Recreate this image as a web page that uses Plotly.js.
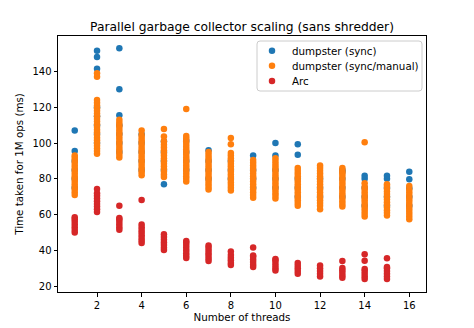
<!DOCTYPE html>
<html>
<head>
<meta charset="utf-8">
<script src="https://cdn.plot.ly/plotly-3.0.1.min.js"></script>
<style>html,body{margin:0;padding:0;background:#fff;}#chart{width:474px;height:328px;}</style>
</head>
<body>
<div id="chart"></div>
<script>
const seriesNames = ['dumpster (sync)', 'dumpster (sync/manual)', 'Arc'];
const seriesColors = ['#1f77b4', '#ff7f0e', '#d62728'];

// dumpster (sync)
const syncThreads = [
  1,1,1,1,1,1,
  2,2,2,2,2,2,2,2,
  3,3,3,3,3,3,3,
  4,4,4,4,4,
  5,5,5,5,5,
  6,6,6,6,
  7,7,7,7,
  8,8,8,
  9,9,9,9,
  10,10,10,10,10,
  11,11,11,11,11,
  12,12,12,
  13,13,13,13,13,
  14,14,14,14,14,
  15,15,15,15,15,
  16,16,16,16,16
];
const syncTimes = [
  75,80,85,90,95.5,107,
  100,105,110,115,120,141.5,148,151.5,
  95,100,105,110,115.5,130,153,
  85,90,95,100.2,104.9,
  77,85,90,95,100.8,
  85,90,95,101.3,
  80,85,90,96,
  80,85,90,
  75,80,85,93,
  75,80,85,93,100,
  70,75,80,93.4,99.3,
  70,75,80,
  70,75,80,84,85,
  65,70,75,80,81.7,
  65,70,75,80,81.7,
  65,70,74.7,79.8,84
];

// dumpster (sync/manual)
const manualThreads = [
  1,1,1,1,1,1,1,1,1,1,1,1,1,1,1,1,
  2,2,2,2,2,2,2,2,2,2,2,2,2,2,2,2,2,2,2,2,2,2,2,
  3,3,3,3,3,3,3,3,3,3,3,3,3,3,3,
  4,4,4,4,4,4,4,4,4,4,4,4,4,4,4,4,4,
  5,5,5,5,5,5,5,5,5,5,5,5,5,5,5,5,
  6,6,6,6,6,6,6,6,6,6,6,6,6,6,6,6,6,6,6,
  7,7,7,7,7,7,7,7,7,7,7,7,7,7,7,
  8,8,8,8,8,8,8,8,8,8,8,8,8,8,8,8,8,
  9,9,9,9,9,9,9,9,9,9,9,9,9,9,9,
  10,10,10,10,10,10,10,10,10,10,10,10,10,10,10,10,
  11,11,11,11,11,11,11,11,11,11,11,11,11,11,11,
  12,12,12,12,12,12,12,12,12,12,12,12,12,12,12,12,12,
  13,13,13,13,13,13,13,13,13,13,13,13,13,13,13,13,
  14,14,14,14,14,14,14,14,14,14,14,14,14,14,
  15,15,15,15,15,15,15,15,15,15,15,15,15,
  16,16,16,16,16,16,16,16,16,16,16,16,16
];
const manualTimes = [
  71,72.5,74,75.5,77,78.5,80,81.5,83,84.5,86,87.5,89,90.5,92,93,
  94,95.5,97,98.5,100,101.5,103,104.5,106,107.5,109,110.5,112,113.5,115,116.5,118,119.5,121,122.5,124,137,139,
  92,93.5,95,96.5,98,99.5,101,102.5,104,105.5,107,108.5,110,111.5,113,
  82,83.5,85,86.5,88,89.5,91,92.5,94,95.5,97,98.5,100,101.5,103,104.5,107,
  81,82.5,84,85.5,87,88.5,90,91.5,93,94.5,96,97.5,99,101,103.6,107.9,
  78.5,80,81.5,83,84.5,86,87.5,89,90.5,92,93.5,95,96.5,98,99.5,101,102.5,104,119,
  74,75.5,77,78.5,80,81.5,83,84.5,86,87.5,89,90.5,92,93.5,95,
  73.5,75,76.5,78,79.5,81,82.5,84,85.5,87,88.5,90,91.5,93,94.5,99.4,102.8,
  69.5,71,72.5,74,75.5,77,78.5,80,81.5,83,84.5,86,87.5,89,90.5,
  69,70.5,72,73.5,75,76.5,78,79.5,81,82.5,84,85.5,87,88.5,90,91.5,
  65,66.5,68,69.5,71,72.5,74,75.5,77,78.5,80,81.5,83,84.5,86,
  63,65,66.5,68,69.5,71,72.5,74,75.5,77,78.5,80,81.5,83,84.5,86,87.5,
  64.5,66,67.5,69,70.5,72,73.5,75,76.5,78,79.5,81,82.5,83.5,84.5,86,
  59,60.5,62,63.5,65,66.5,68,69.5,71,72.5,74,75.5,77.5,100.5,
  59.5,61,62.5,64,65.5,67,68.5,70,71.5,73,74.5,76,77,
  57.5,59,60.5,62,63.5,65,66.5,68,69.5,71,72.5,74,76
];

// Arc
const arcThreads = [
  1,1,1,1,1,1,1,
  2,2,2,2,2,2,2,2,2,
  3,3,3,3,3,3,3,
  4,4,4,4,4,4,4,4,4,
  5,5,5,5,5,5,5,
  6,6,6,6,6,6,6,6,
  7,7,7,7,7,7,7,
  8,8,8,8,8,8,
  9,9,9,9,9,9,9,
  10,10,10,10,10,10,
  11,11,11,11,11,
  12,12,12,12,12,
  13,13,13,13,13,13,
  14,14,14,14,14,14,14,
  15,15,15,15,15,15,15
];
const arcTimes = [
  50,51.5,53,54.5,56,57.5,58.5,
  61.5,63,64.5,66,67.5,69,70.5,72,74.3,
  51.6,53,54.5,56,57.5,58.2,65,
  44.2,45.5,47,48.5,50,51.5,53,54.5,68.2,
  40.3,41.5,43,44.5,46,47.5,49,
  35.8,37,38.5,40,41.5,43,44.5,45.3,
  34.1,35.5,37,38.5,40,41.5,42.8,
  31.9,33,34.5,36,37.5,39.4,
  30.8,32,33.5,35,36.5,37.2,41.6,
  28.8,30,31.5,33,34.5,35.3,
  27,28.5,30,31.5,33,
  25.5,27,28.5,30,31.6,
  24.8,26,27.5,29,30.2,34.1,
  24.1,25.5,27,28.5,29.7,34.3,37.9,
  24.1,25.5,27,28.5,30,30.8,35.6
];

const xTicks = [2,4,6,8,10,12,14,16];
const yTicks = [20,40,60,80,100,120,140];

const FONT = 'DejaVu Sans, sans-serif';
const W = 474, H = 328;
const M = {l: 58, r: 48, t: 36, b: 36};
const PW = W - M.l - M.r, PH = H - M.t - M.b;
// pixel -> paper helpers (for the legend box only)
const px = v => (v - M.l) / PW;
const py = v => (H - M.b - v) / PH;

function series(i, xs, ys) {
  return {
    type: 'scatter', mode: 'markers', name: seriesNames[i],
    x: xs, y: ys,
    marker: {color: seriesColors[i], size: 6.5, line: {width: 0}},
    hoverinfo: 'x+y'
  };
}

const data = [
  series(0, syncThreads, syncTimes),
  series(1, manualThreads, manualTimes),
  series(2, arcThreads, arcTimes)
];

// legend (matplotlib style: compact, rounded box)
const lx0 = px(257), lx1 = px(422), ly1 = py(41), ly0 = py(91);
const rx = 3 / PW, ry = 3 / PH;
const boxPath = `M${lx0+rx},${ly1} L${lx1-rx},${ly1} Q${lx1},${ly1} ${lx1},${ly1-ry} ` +
  `L${lx1},${ly0+ry} Q${lx1},${ly0} ${lx1-rx},${ly0} L${lx0+rx},${ly0} Q${lx0},${ly0} ${lx0},${ly0+ry} ` +
  `L${lx0},${ly1-ry} Q${lx0},${ly1} ${lx0+rx},${ly1} Z`;
const rowY = [50.7, 65.8, 80.9];
const shapes = [{
  type: 'path', xref: 'paper', yref: 'paper', path: boxPath, layer: 'above',
  fillcolor: 'rgba(255,255,255,0.8)', line: {color: '#cccccc', width: 1}
}];
const annotations = [];
seriesNames.forEach((name, i) => {
  const cx = px(272), cy = py(rowY[i]);
  const r = 3.25;
  shapes.push({
    type: 'circle', xref: 'paper', yref: 'paper', layer: 'above',
    x0: cx - r / PW, x1: cx + r / PW, y0: cy - r / PH, y1: cy + r / PH,
    fillcolor: seriesColors[i], line: {width: 0}
  });
  annotations.push({
    xref: 'paper', yref: 'paper', x: px(290), y: cy, xanchor: 'left', yanchor: 'middle',
    text: name, showarrow: false, font: {family: FONT, size: 10.3, color: '#000'}
  });
});

const axisCommon = {
  showgrid: false, zeroline: false,
  showline: true, mirror: true, linecolor: '#000', linewidth: 1,
  ticks: 'outside', ticklen: 3.5, tickwidth: 1, tickcolor: '#000',
  tickfont: {family: FONT, size: 10, color: '#000'},
  automargin: false
};

const layout = {
  width: W, height: H,
  margin: {l: M.l, r: M.r, t: M.t, b: M.b, pad: 0},
  paper_bgcolor: '#fff', plot_bgcolor: '#fff',
  font: {family: FONT, color: '#000', size: 10},
  title: {
    text: 'Parallel garbage collector scaling (sans shredder)',
    font: {family: FONT, size: 12.3, color: '#000'},
    x: 0.5, xref: 'paper', y: 0.918, yref: 'container', yanchor: 'middle'
  },
  xaxis: Object.assign({}, axisCommon, {
    range: [0.25, 16.75], tickvals: xTicks, ticktext: xTicks.map(String),
    title: {text: 'Number of threads', font: {family: FONT, size: 10.3, color: '#000'}, standoff: 4}
  }),
  yaxis: Object.assign({}, axisCommon, {
    range: [16.8, 159.8], tickvals: yTicks, ticktext: yTicks.map(String),
    title: {text: 'Time taken for 1M ops (ms)', font: {family: FONT, size: 10.3, color: '#000'}, standoff: 6}
  }),
  shapes: shapes,
  annotations: annotations,
  showlegend: false
};

Plotly.newPlot('chart', data, layout, {displayModeBar: false, staticPlot: true});
</script>
</body>
</html>
